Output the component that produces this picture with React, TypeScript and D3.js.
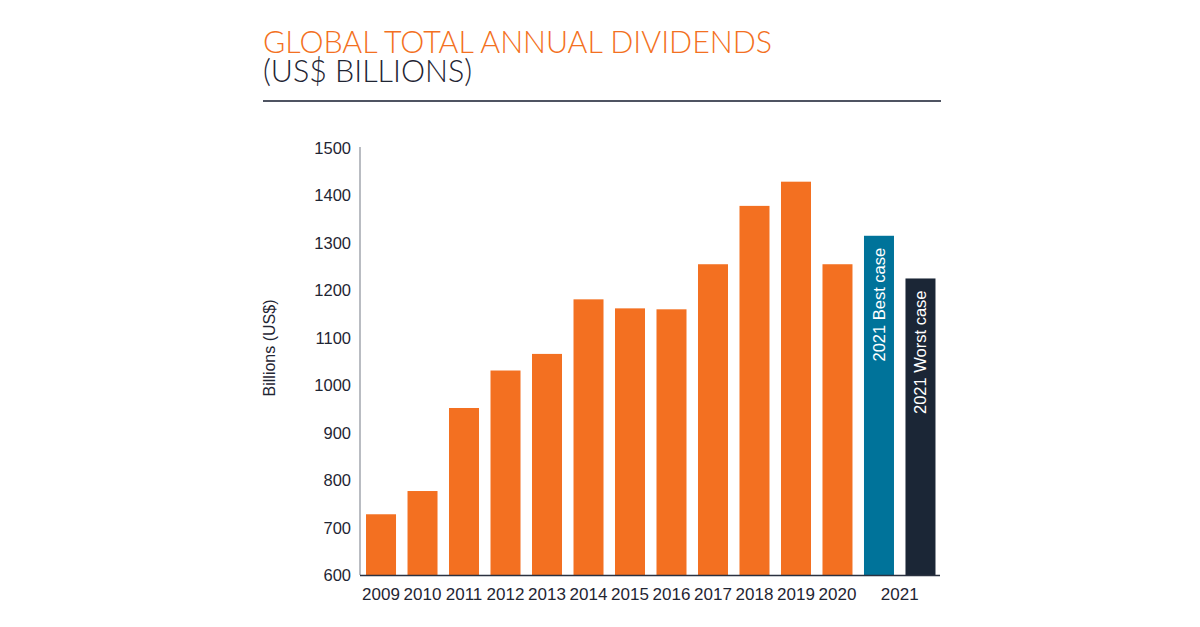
import React, { useRef, useEffect } from 'react';
import * as d3 from 'd3';

const years = ['2009', '2010', '2011', '2012', '2013', '2014', '2015', '2016', '2017', '2018', '2019', '2020', '2021b', '2021w'];
const dividends = [728, 777, 952, 1031, 1066, 1181, 1162, 1160, 1255, 1378, 1429, 1255, 1315, 1225];
const barLabels = ['', '', '', '', '', '', '', '', '', '', '', '', '2021 Best case', '2021 Worst case'];
const yTicks = [600, 700, 800, 900, 1000, 1100, 1200, 1300, 1400, 1500];

const ORANGE = '#f37021';
const TEAL = '#00739a';
const NAVY = '#1b2636';
const INK = '#1f2533';

const W = 1200;
const H = 627;

export default function App() {
  const ref = useRef<SVGSVGElement>(null);

  useEffect(() => {
    if (!ref.current) return;
    const svg = d3.select(ref.current);
    svg.selectAll('*').remove();

    // title, fitted to the width it has in the original
    const title = svg.append('g').attr('font-family', 'Lato, sans-serif').attr('font-weight', 300);
    title.append('text').attr('x', 263).attr('y', 53).attr('font-size', 32).attr('fill', ORANGE)
      .attr('textLength', 509).attr('lengthAdjust', 'spacingAndGlyphs')
      .text('GLOBAL TOTAL ANNUAL DIVIDENDS');
    title.append('text').attr('x', 263).attr('y', 82).attr('font-size', 32).attr('fill', INK)
      .attr('textLength', 209).attr('lengthAdjust', 'spacingAndGlyphs')
      .text('(US$ BILLIONS)');
    svg.append('line').attr('x1', 263).attr('x2', 941).attr('y1', 101).attr('y2', 101)
      .attr('stroke', '#4f5462').attr('stroke-width', 2);

    const x = d3.scaleBand().domain(years).range([360, 941.5]).paddingInner(0.277).paddingOuter(0.145);
    const y = d3.scaleLinear().domain([600, 1500]).range([575, 148]);

    const g = svg.append('g').attr('font-family', '"Liberation Sans", Arial, sans-serif');

    // bars
    g.selectAll('rect.bar').data(years).enter().append('rect')
      .attr('class', 'bar')
      .attr('x', d => x(d)!)
      .attr('width', x.bandwidth())
      .attr('y', (d, i) => y(dividends[i]))
      .attr('height', (d, i) => y(600) - y(dividends[i]))
      .attr('fill', (d, i) => (i === 12 ? TEAL : i === 13 ? NAVY : ORANGE));

    // labels inside the 2021 bars
    g.selectAll('text.inbar').data(years.filter((d, i) => barLabels[i])).enter().append('text')
      .attr('class', 'inbar')
      .attr('transform', d => {
        const i = years.indexOf(d);
        return `translate(${x(d)! + x.bandwidth() / 2 + 6},${y(dividends[i]) + 12}) rotate(-90)`;
      })
      .attr('text-anchor', 'end')
      .attr('font-size', 16.5)
      .attr('fill', '#ffffff')
      .text(d => barLabels[years.indexOf(d)]);

    // y axis
    g.append('line').attr('x1', 360).attr('x2', 360).attr('y1', 147).attr('y2', 575)
      .attr('stroke', '#8a8f99').attr('stroke-width', 1.2);
    g.selectAll('text.ytick').data(yTicks).enter().append('text')
      .attr('class', 'ytick')
      .attr('x', 351)
      .attr('y', d => y(d) + 6)
      .attr('text-anchor', 'end')
      .attr('font-size', 16.5)
      .attr('fill', INK)
      .text(d => String(d));
    g.append('text')
      .attr('transform', 'translate(275,348) rotate(-90)')
      .attr('text-anchor', 'middle')
      .attr('font-size', 16)
      .attr('fill', INK)
      .text('Billions (US$)');

    // x axis
    g.append('line').attr('x1', 360).attr('x2', 940).attr('y1', 575.5).attr('y2', 575.5)
      .attr('stroke', '#2a3140').attr('stroke-width', 1.5);
    const xLabels = years.slice(0, 12).map(d => ({ label: d, cx: x(d)! + x.bandwidth() / 2 }));
    xLabels.push({ label: '2021', cx: (x('2021b')! + x('2021w')! + x.bandwidth()) / 2 });
    g.selectAll('text.xtick').data(xLabels).enter().append('text')
      .attr('class', 'xtick')
      .attr('x', d => d.cx)
      .attr('y', 600)
      .attr('text-anchor', 'middle')
      .attr('font-size', 17)
      .attr('fill', INK)
      .text(d => d.label);
  }, []);

  return (
    <svg ref={ref} width={W} height={H} style={{ position: 'absolute', left: 0, top: 0, background: '#fff' }} />
  );
}
